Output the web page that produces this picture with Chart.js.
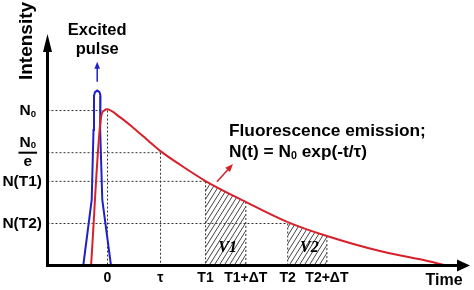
<!DOCTYPE html>
<html>
<head>
<meta charset="utf-8">
<script src="https://cdn.jsdelivr.net/npm/chart.js@4.4.0/dist/chart.umd.min.js"></script>
<style>
  html, body { margin: 0; padding: 0; background: #fff; }
  #wrap { width: 474px; height: 290px; }
</style>
</head>
<body>
<div id="wrap"><canvas id="decay-chart"></canvas></div>
<script>
// time in units of tau, intensity in units of N0
const timeTicks = [0, 1.0, 1.85, 2.61, 3.40, 4.14];
const timeLabels = ['0', 'τ', 'T1', 'T1+ΔT', 'T2', 'T2+ΔT'];
const tickLevels = [1.0, 0.728, 0.543, 0.41, 0.271, 0.19]; // curve height above each tick

const levelValues = [1.0, 0.728, 0.543, 0.271];
const levelLabels = ['N_0', 'N_0/e', 'N(T1)', 'N(T2)'];
const levelTimes = [0, 1.0, 1.85, 3.40];

const pulseT = [-0.457, -0.298, -0.264, -0.255, -0.236, -0.194, -0.151, -0.132, -0.138, -0.098, 0.066];
const pulseN = [0, 0.423, 0.874, 1.094, 1.119, 1.129, 1.119, 1.094, 0.874, 0.423, 0];

const emissionT = [-0.31, -0.12, -0.06, -0.015, 0.24, 0.49, 0.80, 1.0, 1.37, 1.85, 2.61, 3.40, 4.14, 5.14, 5.90, 6.40];
const emissionN = [0, 0.96, 1.0, 1.008, 0.956, 0.888, 0.796, 0.738, 0.650, 0.545, 0.41, 0.28, 0.19, 0.093, 0.04, 0];

const windows = [[1.85, 2.61], [3.40, 4.14]];
const windowLabels = ['V1', 'V2'];

const xMin = -1.132, xMax = 6.84, yMax = 1.494;

const RED = '#d8202a';
const BLUE = '#2020c8';

// hatch pattern for the gated windows
const tile = document.createElement('canvas');
tile.width = 5; tile.height = 8;
const tctx = tile.getContext('2d');
tctx.strokeStyle = '#444';
tctx.lineWidth = 1;
tctx.beginPath();
tctx.moveTo(-5, 8); tctx.lineTo(0, 0);
tctx.moveTo(0, 8); tctx.lineTo(5, 0);
tctx.moveTo(5, 8); tctx.lineTo(10, 0);
tctx.stroke();
const hatch = tctx.createPattern(tile, 'repeat');

function inWindow(a, b) {
  return windows.some(w => a >= w[0] - 1e-6 && b <= w[1] + 1e-6);
}

function guide(points) {
  return {
    data: points,
    borderColor: '#333',
    borderWidth: 1,
    borderDash: [2, 2],
    pointRadius: 0,
    fill: false,
    tension: 0
  };
}

const datasets = [
  {
    data: emissionT.map((t, i) => ({ x: t, y: emissionN[i] })),
    borderColor: RED,
    borderWidth: 2,
    pointRadius: 0,
    cubicInterpolationMode: 'monotone',
    fill: 'origin',
    backgroundColor: 'rgba(0,0,0,0)',
    segment: {
      backgroundColor: ctx => inWindow(ctx.p0.parsed.x, ctx.p1.parsed.x) ? hatch : undefined
    }
  },
  {
    data: pulseT.map((t, i) => ({ x: t, y: pulseN[i] })),
    borderColor: BLUE,
    borderWidth: 2,
    pointRadius: 0,
    tension: 0,
    fill: false
  }
];
levelValues.forEach((v, i) => datasets.push(guide([{ x: xMin, y: v }, { x: levelTimes[i], y: v }])));
timeTicks.forEach((t, i) => datasets.push(guide([{ x: t, y: tickLevels[i] }, { x: t, y: 0 }])));

const font = (size, style) => (style || 'bold') + ' ' + size + 'px "Liberation Sans", Arial, sans-serif';

function runs(label) {
  // "N_0" -> N with subscript 0
  const out = [];
  label.split(/(_\w)/).forEach(p => {
    if (!p) return;
    if (p[0] === '_') out.push({ text: p.slice(1), sub: true });
    else out.push({ text: p, sub: false });
  });
  return out;
}

function drawRuns(ctx, label, x, y, size, align) {
  const parts = runs(label);
  let w = 0;
  parts.forEach(r => { ctx.font = font(r.sub ? size * 0.62 : size); w += ctx.measureText(r.text).width; });
  let cx = align === 'right' ? x - w : align === 'center' ? x - w / 2 : x;
  ctx.textAlign = 'left';
  ctx.textBaseline = 'middle';
  parts.forEach(r => {
    ctx.font = font(r.sub ? size * 0.62 : size);
    ctx.fillText(r.text, cx, r.sub ? y + size * 0.2 : y);
    cx += ctx.measureText(r.text).width;
  });
  return w;
}

function arrow(ctx, x1, y1, x2, y2, color, width, head, half) {
  const a = Math.atan2(y2 - y1, x2 - x1);
  const c = Math.cos(a), s = Math.sin(a);
  ctx.strokeStyle = color;
  ctx.fillStyle = color;
  ctx.lineWidth = width;
  ctx.beginPath();
  ctx.moveTo(x1, y1);
  ctx.lineTo(x2 - c * head * 0.8, y2 - s * head * 0.8);
  ctx.stroke();
  ctx.beginPath();
  ctx.moveTo(x2, y2);
  ctx.lineTo(x2 - c * head - s * half, y2 - s * head + c * half);
  ctx.lineTo(x2 - c * head + s * half, y2 - s * head - c * half);
  ctx.closePath();
  ctx.fill();
}

const sketch = {
  id: 'sketch',
  afterDatasetsDraw(chart) {
    const { ctx, chartArea: a, scales: { x, y } } = chart;
    ctx.save();

    // axes with arrow heads
    ctx.strokeStyle = '#000';
    ctx.fillStyle = '#000';
    ctx.lineWidth = 3;
    ctx.beginPath();
    ctx.moveTo(a.left, a.bottom + 1.5);
    ctx.lineTo(a.left, a.top + 14);
    ctx.moveTo(a.left - 1.5, a.bottom);
    ctx.lineTo(a.right - 10, a.bottom);
    ctx.stroke();
    ctx.beginPath();
    ctx.moveTo(a.left, a.top);
    ctx.lineTo(a.left - 4.5, a.top + 18);
    ctx.lineTo(a.left + 4.5, a.top + 18);
    ctx.closePath();
    ctx.fill();
    ctx.beginPath();
    ctx.moveTo(a.right, a.bottom);
    ctx.lineTo(a.right - 13, a.bottom - 6);
    ctx.lineTo(a.right - 13, a.bottom + 6);
    ctx.closePath();
    ctx.fill();

    // time ticks
    timeTicks.forEach((t, i) => {
      drawRuns(ctx, timeLabels[i], x.getPixelForValue(t), a.bottom + 12.5, 14, 'center');
    });
    drawRuns(ctx, 'Time', a.right - 26, a.bottom + 15.5, 16, 'center');

    // intensity levels
    const rightEdge = [36, 36, 42, 42];
    levelValues.forEach((v, i) => {
      const py = y.getPixelForValue(v);
      const lab = levelLabels[i];
      if (lab.includes('/')) {
        const [num, den] = lab.split('/');
        const w = drawRuns(ctx, num, rightEdge[i], py - 10, 15.5, 'right');
        ctx.fillRect(rightEdge[i] - w - 1, py - 1, w + 2, 2);
        drawRuns(ctx, den, rightEdge[i] - w / 2, py + 9, 15.5, 'center');
      } else {
        drawRuns(ctx, lab, rightEdge[i], py + 0.5, 15.5, 'right');
      }
    });

    ctx.save();
    ctx.translate(27, 41);
    ctx.rotate(-Math.PI / 2);
    drawRuns(ctx, 'Intensity', 0, 0, 19, 'center');
    ctx.restore();

    // excitation pulse arrow + label
    const px = x.getPixelForValue(pulseT[5]);
    const tipY = y.getPixelForValue(1.315);
    arrow(ctx, px, y.getPixelForValue(1.186), px, tipY, BLUE, 1.5, 7, 2.8);
    ctx.fillStyle = '#000';
    drawRuns(ctx, 'Excited', px, tipY - 31, 16.5, 'center');
    drawRuns(ctx, 'pulse', px, tipY - 12, 16.5, 'center');

    // emission arrow + formula
    const ax = x.getPixelForValue(2.368), ay = y.getPixelForValue(0.655);
    arrow(ctx, x.getPixelForValue(2.066), y.getPixelForValue(0.54), ax, ay, RED, 1.5, 8, 3.2);
    ctx.fillStyle = '#000';
    drawRuns(ctx, 'Fluorescence emission;', ax - 4, ay - 33, 17.3, 'left');
    drawRuns(ctx, 'N(t) = N_0 exp(-t/τ)', ax - 4, ay - 11.5, 17.3, 'left');

    // window labels
    ctx.font = 'italic bold 16px "Liberation Serif", "Times New Roman", serif';
    ctx.textAlign = 'center';
    ctx.textBaseline = 'middle';
    windows.forEach((w, i) => {
      ctx.fillText(windowLabels[i], x.getPixelForValue((w[0] + w[1]) / 2) + 2, y.getPixelForValue(0.12) + 1);
    });

    ctx.restore();
  }
};

new Chart(document.getElementById('decay-chart'), {
  type: 'line',
  data: { datasets },
  options: {
    responsive: true,
    maintainAspectRatio: false,
    animation: false,
    layout: { padding: { left: 47.5, right: 4, top: 34, bottom: 24.5 } },
    scales: {
      x: { type: 'linear', min: xMin, max: xMax, display: false },
      y: { type: 'linear', min: 0, max: yMax, display: false }
    },
    plugins: {
      legend: { display: false },
      tooltip: { enabled: false }
    }
  },
  plugins: [sketch]
});
</script>
</body>
</html>
